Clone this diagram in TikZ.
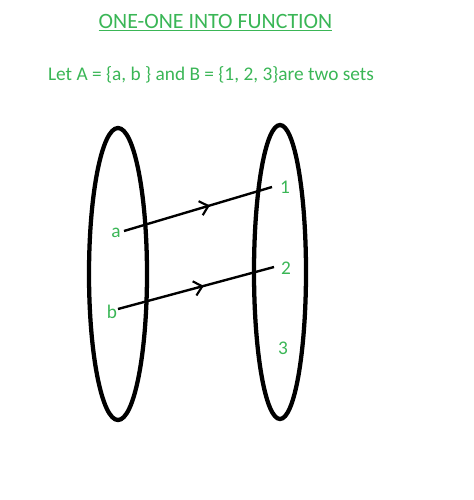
\documentclass[tikz,border=0pt]{standalone}
\usepackage{fontspec}
\setmainfont{Carlito}
\usetikzlibrary{arrows.meta,decorations.markings,shapes.geometric}
\definecolor{lbl}{RGB}{58,182,86}
\tikzset{
  setring/.style={draw=black,line width=3.2pt,ellipse,inner sep=0pt},
  maparrow/.style={draw=black,line width=1.8pt,
    postaction={decorate},
    decoration={markings,mark=at position #1 with {\arrow{Straight Barb[length=6pt,width=11pt,line width=1.6pt]}}}},
  elem/.style={text=lbl,font=\fontsize{14.5}{16}\selectfont,inner sep=1pt}
}
\begin{document}
\begin{tikzpicture}[x=0.75pt,y=-0.75pt]
\useasboundingbox (0,0) rectangle (474,500);
\node[text=lbl,font=\fontsize{16.4}{20}\selectfont,inner sep=0pt] (title) at (215.5,23) {\underline{ONE-ONE INTO FUNCTION}};
\node[text=lbl,font=\fontsize{14.5}{17}\selectfont,inner sep=0pt] (sub) at (211,75) {Let A = \{a, b \} and B = \{1, 2, 3\}are two sets};
\node[setring,minimum width=43.5pt,minimum height=219pt] (SA) at (118,274) {};
\node[setring,minimum width=39pt,minimum height=220.5pt] (SB) at (280,272) {};
\node[elem] (a) at (116,233) {a};
\node[elem] (b) at (112,312) {b};
\node[elem] (n1) at (285,187) {1};
\node[elem] (n2) at (286,268) {2};
\node[elem] (n3) at (283,348) {3};
\coordinate (a0) at (124,231);
\coordinate (a1) at (272,187);
\coordinate (b0) at (118,309);
\coordinate (b1) at (274,267);
\draw[maparrow=0.58] (a0) -- (a1);
\draw[maparrow=0.55] (b0) -- (b1);
\end{tikzpicture}
\end{document}
